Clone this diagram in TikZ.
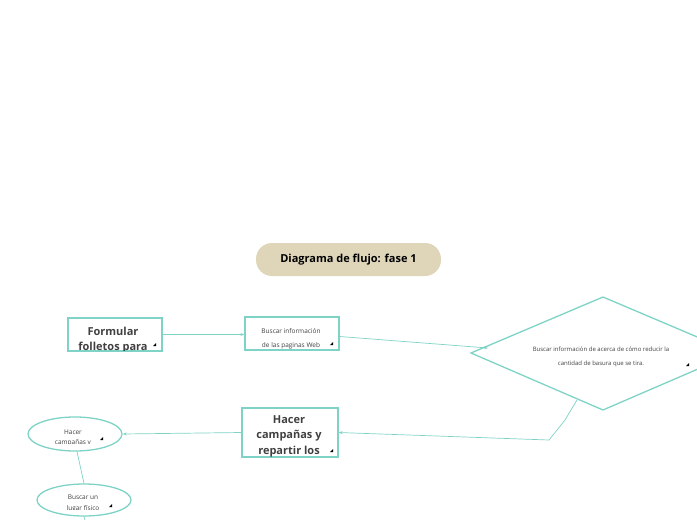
\documentclass[tikz,border=0pt]{standalone}
\usepackage{fontspec}
\setmainfont{Open Sans}
\usetikzlibrary{arrows.meta,shapes.geometric}
\definecolor{tl}{HTML}{7ED3C6}
\definecolor{pill}{HTML}{DFD6BA}
\definecolor{txt}{HTML}{404040}
\begin{document}
\begin{tikzpicture}[x=1pt,y=-1pt,
  bx/.style={draw=tl,line width=1.3pt},
  ln/.style={draw=tl,line width=0.7pt},
  ar/.style={ln,-{Stealth[length=4pt,width=3pt]}},
  t/.style={inner sep=0pt,text=txt,align=center}]
\useasboundingbox (0,0) rectangle (697,520);
% title
\node[fill=pill,rounded corners=16pt,minimum width=185pt,minimum height=33pt,inner sep=0pt,font=\bfseries\fontsize{11}{13}\selectfont,text=black] (title) at (348.5,259.5) {Diagrama de flujo: fase 1};
% boxes
\node[bx,minimum width=94pt,minimum height=33pt,inner sep=0pt] (f) at (115,334.5) {};
\node[bx,minimum width=94pt,minimum height=33pt,inner sep=0pt] (b) at (292,333.5) {};
\node[bx,minimum width=96pt,minimum height=49pt,inner sep=0pt] (h) at (290,432.5) {};
\draw[bx] (471,353) -- (603,297) -- (735,353) -- (603,410) -- cycle;
\node[bx,ellipse,minimum width=94pt,minimum height=34pt,inner sep=0pt] (e1) at (75,434) {};
\node[bx,ellipse,minimum width=94pt,minimum height=32pt,inner sep=0pt] (e2) at (84,500) {};
% texts clipped
\begin{scope}
\clip (69,319) rectangle (161,350);
\node[t,font=\bfseries\fontsize{11}{13}\selectfont] at (113,331) {Formular};
\node[t,font=\bfseries\fontsize{11}{13}\selectfont] at (113,348) {folletos para};
\end{scope}
\begin{scope}
\clip (246,318) rectangle (338,349);
\node[t,font=\fontsize{6.5}{8}\selectfont] at (291,331) {Buscar información};
\node[t,font=\fontsize{6.5}{8}\selectfont] at (291,345.5) {de las paginas Web};
\end{scope}
\begin{scope}
\clip (243,409) rectangle (337,456);
\node[t,font=\bfseries\fontsize{11}{13}\selectfont] at (289,420) {Hacer};
\node[t,font=\bfseries\fontsize{11}{13}\selectfont] at (289,436) {campañas y};
\node[t,font=\bfseries\fontsize{11}{13}\selectfont] at (289,452) {repartir los};
\end{scope}
\begin{scope}
\clip (30,420) rectangle (120,443);
\node[t,font=\fontsize{6.5}{8}\selectfont] at (73,432) {Hacer};
\node[t,font=\fontsize{6.5}{8}\selectfont] at (73,443) {campañas y};
\end{scope}
\begin{scope}
\clip (40,487) rectangle (128,509);
\node[t,font=\fontsize{6.5}{8}\selectfont] at (83,497) {Buscar un};
\node[t,font=\fontsize{6.5}{8}\selectfont] at (83,508.5) {lugar físico};
\end{scope}
\node[t,font=\fontsize{6}{8}\selectfont] at (601,349) {Buscar información de acerca de cómo reducir la};
\node[t,font=\fontsize{6}{8}\selectfont] at (601,364) {cantidad de basura que se tira.};
% triangles
\foreach \p in {(156,346),(333,345),(689,366),(333,452),(103,440),(112,507)}
  \fill \p ++(-3,0) -- ++(3,0) -- ++(0,-3) -- cycle;
% connectors
\draw[ar] (f.east) -- (b.west |- f.east);
\draw[ar] (b.east) ++(0,3) -- (488,348);
\draw[ar] (577,400) -- (565,420) -- (549,440) -- (h.east);
\draw[ar] (h.west) -- (e1.east);
\draw[ln] (e1.south) ++(2,0) -- (e2.north);
\draw[ln] (e2.south) -- (85,520);
\end{tikzpicture}
\end{document}
